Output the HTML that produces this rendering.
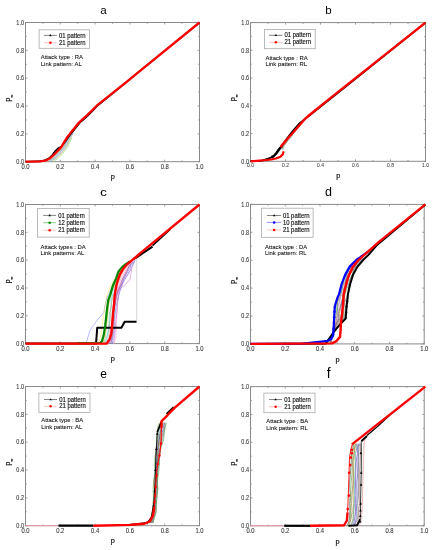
<!DOCTYPE html>
<html><head><meta charset="utf-8"><title>Figure</title>
<style>html,body{margin:0;padding:0;background:#fff;width:434px;height:550px;overflow:hidden}

svg{font-family:'Liberation Sans',Arial,sans-serif}
.tk{fill:#3a3a3a;stroke:#3a3a3a;stroke-width:0.1px}
.tkx{font-size:6.3px}
.tky{font-size:6.4px}
.tkb{font-size:4.9px;stroke-width:0.05px}
.lg{font-size:6.8px;fill:#111;stroke:#111;stroke-width:0.15px}
.an{font-size:5.9px;fill:#1a1a1a;stroke:#1a1a1a;stroke-width:0.1px}
.tm{stroke:#888;stroke-width:0.8;fill:none}
.al{font-size:7.4px;fill:#111;stroke:#111;stroke-width:0.2px}
.fr{fill:none;stroke:#8a8a8a;stroke-width:1}
</style>
</head><body>
<svg width="434" height="550" viewBox="0 0 434 550" style="display:block;font-family:'Liberation Sans',Arial,sans-serif">
<g>
<path d="M25.5 161.7v-2M25.5 22.5v2M25.5 161.7h2M199.5 161.7h-2M42.9 161.7v-1.3M42.9 22.5v1.3M25.5 147.78h1.3M199.5 147.78h-1.3M60.3 161.7v-2M60.3 22.5v2M25.5 133.86h2M199.5 133.86h-2M77.7 161.7v-1.3M77.7 22.5v1.3M25.5 119.94h1.3M199.5 119.94h-1.3M95.1 161.7v-2M95.1 22.5v2M25.5 106.02h2M199.5 106.02h-2M112.5 161.7v-1.3M112.5 22.5v1.3M25.5 92.1h1.3M199.5 92.1h-1.3M129.9 161.7v-2M129.9 22.5v2M25.5 78.18h2M199.5 78.18h-2M147.3 161.7v-1.3M147.3 22.5v1.3M25.5 64.26h1.3M199.5 64.26h-1.3M164.7 161.7v-2M164.7 22.5v2M25.5 50.34h2M199.5 50.34h-2M182.1 161.7v-1.3M182.1 22.5v1.3M25.5 36.42h1.3M199.5 36.42h-1.3M199.5 161.7v-2M199.5 22.5v2M25.5 22.5h2M199.5 22.5h-2" class="tm"/><g class="tk"><text transform="translate(25.5 168.9) scale(0.93 1)" text-anchor="middle" class="tkx">0.0</text><text transform="translate(24 163.9) scale(0.86 1)" text-anchor="end" class="tky">0.0</text><text transform="translate(60.3 168.9) scale(0.93 1)" text-anchor="middle" class="tkx">0.2</text><text transform="translate(24 136.06) scale(0.86 1)" text-anchor="end" class="tky">0.2</text><text transform="translate(95.1 168.9) scale(0.93 1)" text-anchor="middle" class="tkx">0.4</text><text transform="translate(24 108.22) scale(0.86 1)" text-anchor="end" class="tky">0.4</text><text transform="translate(129.9 168.9) scale(0.93 1)" text-anchor="middle" class="tkx">0.6</text><text transform="translate(24 80.38) scale(0.86 1)" text-anchor="end" class="tky">0.6</text><text transform="translate(164.7 168.9) scale(0.93 1)" text-anchor="middle" class="tkx">0.8</text><text transform="translate(24 52.54) scale(0.86 1)" text-anchor="end" class="tky">0.8</text><text transform="translate(199.5 168.9) scale(0.93 1)" text-anchor="middle" class="tkx">1.0</text><text transform="translate(24 24.7) scale(0.86 1)" text-anchor="end" class="tky">1.0</text></g>
<rect x="25.5" y="22.5" width="174" height="139.2" class="fr"/>
<path d="M49.79 161.7L48.82 160.31L52.22 158.36L55.73 155.16L59.22 151.54L63.03 147.36L65.91 141.79L68.66 137.2L71.94 132.61L75.23 128.57" stroke="#999" stroke-width="0.5" fill="none" stroke-linejoin="round"/><path d="M50.35 161.7L49.64 160.31L53 158.36L56.46 155.16L59.9 151.54L63.65 147.36L66.45 141.79L69.13 137.2L72.34 132.61L75.57 128.57" stroke="#6b6" stroke-width="0.5" fill="none" stroke-linejoin="round"/><path d="M50.9 161.7L50.45 160.31L53.79 158.36L57.2 155.16L60.58 151.54L64.27 147.36L66.99 141.79L69.6 137.2L72.73 132.61" stroke="#5cc" stroke-width="0.5" fill="none" stroke-linejoin="round"/><path d="M51.46 161.7L51.27 160.31L54.57 158.36L57.94 155.16L61.26 151.54L64.89 147.36L67.52 141.79L70.07 137.2L73.13 132.61" stroke="#a8d" stroke-width="0.5" fill="none" stroke-linejoin="round"/><path d="M52.3 161.7L52.49 160.31L55.75 158.36L59.04 155.16L62.29 151.54L65.82 147.36L68.33 141.79L70.77 137.2L73.73 132.61" stroke="#888" stroke-width="0.5" fill="none" stroke-linejoin="round"/><path d="M53.13 161.7L53.71 160.31L56.93 158.36L60.15 155.16L63.31 151.54L66.75 147.36L69.13 141.79L71.47 137.2" stroke="#cc6" stroke-width="0.5" fill="none" stroke-linejoin="round"/><path d="M53.97 161.7L54.93 160.31L58.1 158.36L61.25 155.16L64.34 151.54L67.68 147.36L69.94 141.79L72.17 137.2" stroke="#7c7" stroke-width="0.5" fill="none" stroke-linejoin="round"/><path d="M25.5 161.7L42.9 161.14L48.99 158.22L52.47 154.74L55.43 150.84L58.21 148.2L61.17 146.67L65.17 141.79L68.3 137.2L71.78 132.61L75.26 128.57L79.79 122.72L82.92 120.22L88.14 115.35L92.84 110.75L97.01 106.02L109.02 96.28L125.03 83.33L140.34 70.52L199.5 22.5" stroke="#000" stroke-width="1.6" fill="none" stroke-linejoin="round"/><path d="M25.5 161.7L39.94 161.28L46.38 160.31L49.86 158.36L53.51 155.16L57.17 151.54L61.17 147.36L64.3 141.79L67.26 137.2L70.74 132.61L74.22 128.57L78.92 122.58L81.88 119.94L87.44 114.93L92.14 110.34L97.01 105.46L109.02 95.86L125.03 83.05L140.34 70.52L199.5 22.5" stroke="#f00" stroke-width="2.3" fill="none" stroke-linejoin="round"/>
<rect x="39.1" y="29.8" width="50.5" height="18.5" fill="#fff" stroke="#aaa" stroke-width="0.8"/><path d="M43.8 35.4H56.8" stroke="#777" stroke-width="0.9"/><path d="M50.4 34.1l1.3 2.1h-2.6z" fill="#000"/><text transform="translate(59 37.5) scale(0.87 1)" class="lg">01 pattern</text><path d="M43.8 42.7H56.8" stroke="#fbb" stroke-width="0.9"/><circle cx="50.4" cy="42.7" r="1.25" fill="#f00"/><text transform="translate(59 44.8) scale(0.87 1)" class="lg">21 pattern</text><text x="40.8" y="59.3" class="an">Attack type : RA</text><text x="40.8" y="66" class="an">Link pattern: AL</text>
</g>
<g>
<path d="M250.5 161.3v-2M250.5 22.6v2M250.5 161.3h2M425.5 161.3h-2M268 161.3v-1.3M268 22.6v1.3M250.5 147.43h1.3M425.5 147.43h-1.3M285.5 161.3v-2M285.5 22.6v2M250.5 133.56h2M425.5 133.56h-2M303 161.3v-1.3M303 22.6v1.3M250.5 119.69h1.3M425.5 119.69h-1.3M320.5 161.3v-2M320.5 22.6v2M250.5 105.82h2M425.5 105.82h-2M338 161.3v-1.3M338 22.6v1.3M250.5 91.95h1.3M425.5 91.95h-1.3M355.5 161.3v-2M355.5 22.6v2M250.5 78.08h2M425.5 78.08h-2M373 161.3v-1.3M373 22.6v1.3M250.5 64.21h1.3M425.5 64.21h-1.3M390.5 161.3v-2M390.5 22.6v2M250.5 50.34h2M425.5 50.34h-2M408 161.3v-1.3M408 22.6v1.3M250.5 36.47h1.3M425.5 36.47h-1.3M425.5 161.3v-2M425.5 22.6v2M250.5 22.6h2M425.5 22.6h-2" class="tm"/><g class="tk"><text x="250.5" y="166.9" text-anchor="middle" class="tkb">0.0</text><text transform="translate(249 163.5) scale(0.86 1)" text-anchor="end" class="tky">0.0</text><text x="285.5" y="166.9" text-anchor="middle" class="tkb">0.2</text><text transform="translate(249 135.76) scale(0.86 1)" text-anchor="end" class="tky">0.2</text><text x="320.5" y="166.9" text-anchor="middle" class="tkb">0.4</text><text transform="translate(249 108.02) scale(0.86 1)" text-anchor="end" class="tky">0.4</text><text x="355.5" y="166.9" text-anchor="middle" class="tkb">0.6</text><text transform="translate(249 80.28) scale(0.86 1)" text-anchor="end" class="tky">0.6</text><text x="390.5" y="166.9" text-anchor="middle" class="tkb">0.8</text><text transform="translate(249 52.54) scale(0.86 1)" text-anchor="end" class="tky">0.8</text><text x="425.5" y="166.9" text-anchor="middle" class="tkb">1.0</text><text transform="translate(249 24.8) scale(0.86 1)" text-anchor="end" class="tky">1.0</text></g>
<rect x="250.5" y="22.6" width="175" height="138.7" class="fr"/>
<path d="M282.35 147.43L283.94 144.66L287.51 140.5L291.13 136.33L294.79 132.17" stroke="#5dd" stroke-width="0.5" fill="none" stroke-linejoin="round"/><path d="M282.35 148.82L283.17 146.04L286.67 141.88L290.26 137.72" stroke="#c5c" stroke-width="0.5" fill="none" stroke-linejoin="round"/><path d="M282.52 149.51L283.05 147.43L285.83 143.27L289.4 139.11L293.06 134.95" stroke="#5c5" stroke-width="0.5" fill="none" stroke-linejoin="round"/><path d="M282.7 150.2L283.4 147.43L284.99 144.66L287.37 141.88" stroke="#888" stroke-width="0.5" fill="none" stroke-linejoin="round"/><path d="M250.5 161.3L262.05 160.61L267.48 158.8L273.07 156.86L275.88 153.67L278.68 149.51L282.35 144.93L286.9 138.55L292.5 131.2L298.98 123.71L304.75 119.14L310 115.11L329.25 99.86L355.5 78.77L425.5 22.6" stroke="#000" stroke-width="1.7" fill="none" stroke-linejoin="round"/><path d="M271.5 157.14L274.12 155.75L276.75 152.7L279.02 149.51L282 146.04" stroke="#000" stroke-width="2.4" fill="none" stroke-linejoin="round"/><path d="M250.5 161.3L262.05 160.47L271.15 159.5L275.88 158.53L280.43 156.72L282.7 154.37L283.75 151.45" stroke="#f00" stroke-width="2.2" fill="none" stroke-linejoin="round"/><path d="M280.95 147.43L281.48 145.9L287.77 138.55L294.25 131.2L300.73 123.71L305.62 118.3L309.48 114.97L330.3 98.19L425.5 22.6" stroke="#f00" stroke-width="2.4" fill="none" stroke-linejoin="round"/>
<rect x="264.4" y="29.4" width="50.8" height="19.3" fill="#fff" stroke="#aaa" stroke-width="0.8"/><path d="M269 35.3H282.5" stroke="#777" stroke-width="0.9"/><path d="M275.85 34l1.3 2.1h-2.6z" fill="#000"/><text transform="translate(284.5 37.4) scale(0.87 1)" class="lg">01 pattern</text><path d="M269 42.3H282.5" stroke="#fbb" stroke-width="0.9"/><circle cx="275.85" cy="42.3" r="1.25" fill="#f00"/><text transform="translate(284.5 44.4) scale(0.87 1)" class="lg">21 pattern</text><text x="265.5" y="59.5" class="an">Attack type : RA</text><text x="265.5" y="65.8" class="an">Link pattern: RL</text>
</g>
<g>
<path d="M25.5 343.6v-2M25.5 204.5v2M25.5 343.6h2M199.5 343.6h-2M42.9 343.6v-1.3M42.9 204.5v1.3M25.5 329.69h1.3M199.5 329.69h-1.3M60.3 343.6v-2M60.3 204.5v2M25.5 315.78h2M199.5 315.78h-2M77.7 343.6v-1.3M77.7 204.5v1.3M25.5 301.87h1.3M199.5 301.87h-1.3M95.1 343.6v-2M95.1 204.5v2M25.5 287.96h2M199.5 287.96h-2M112.5 343.6v-1.3M112.5 204.5v1.3M25.5 274.05h1.3M199.5 274.05h-1.3M129.9 343.6v-2M129.9 204.5v2M25.5 260.14h2M199.5 260.14h-2M147.3 343.6v-1.3M147.3 204.5v1.3M25.5 246.23h1.3M199.5 246.23h-1.3M164.7 343.6v-2M164.7 204.5v2M25.5 232.32h2M199.5 232.32h-2M182.1 343.6v-1.3M182.1 204.5v1.3M25.5 218.41h1.3M199.5 218.41h-1.3M199.5 343.6v-2M199.5 204.5v2M25.5 204.5h2M199.5 204.5h-2" class="tm"/><g class="tk"><text transform="translate(25.5 350.8) scale(0.93 1)" text-anchor="middle" class="tkx">0.0</text><text transform="translate(24 345.8) scale(0.86 1)" text-anchor="end" class="tky">0.0</text><text transform="translate(60.3 350.8) scale(0.93 1)" text-anchor="middle" class="tkx">0.2</text><text transform="translate(24 317.98) scale(0.86 1)" text-anchor="end" class="tky">0.2</text><text transform="translate(95.1 350.8) scale(0.93 1)" text-anchor="middle" class="tkx">0.4</text><text transform="translate(24 290.16) scale(0.86 1)" text-anchor="end" class="tky">0.4</text><text transform="translate(129.9 350.8) scale(0.93 1)" text-anchor="middle" class="tkx">0.6</text><text transform="translate(24 262.34) scale(0.86 1)" text-anchor="end" class="tky">0.6</text><text transform="translate(164.7 350.8) scale(0.93 1)" text-anchor="middle" class="tkx">0.8</text><text transform="translate(24 234.52) scale(0.86 1)" text-anchor="end" class="tky">0.8</text><text transform="translate(199.5 350.8) scale(0.93 1)" text-anchor="middle" class="tkx">1.0</text><text transform="translate(24 206.7) scale(0.86 1)" text-anchor="end" class="tky">1.0</text></g>
<rect x="25.5" y="204.5" width="174" height="139.1" class="fr"/>
<path d="M82.92 343.6L86.4 342.21L88.14 336.65L90.05 330.11L93.36 325.52L97.36 319.95L103.8 312.44L105.19 304.65L106.93 297.7L109.02 293.52L112.5 285.18L117.72 274.05L122.94 267.1L129.9 261.53" stroke="#77f" stroke-width="0.5" fill="none" stroke-linejoin="round"/><path d="M98.58 343.6L101.02 333.72L104.67 308.83L106.93 295.05L110.76 285.18L115.98 276.83" stroke="#ee4" stroke-width="0.5" fill="none" stroke-linejoin="round"/><path d="M105.54 343.6L107.98 333.72L110.76 313.42L112.15 295.05L114.24 285.18L119.46 276.83" stroke="#5dd" stroke-width="0.5" fill="none" stroke-linejoin="round"/><path d="M112.5 343.6L114.41 338.31L115.81 322.6L117.55 304.23L118.59 295.05L121.2 285.18L124.68 276.83L127.29 271.27L129.9 262.92" stroke="#a5e" stroke-width="0.5" fill="none" stroke-linejoin="round"/><path d="M114.24 343.6L115.98 336.65L116.68 322.6L117.37 301.87L118.07 294.92L120.33 285.18L122.94 278.22" stroke="#f9b" stroke-width="0.5" fill="none" stroke-linejoin="round"/><path d="M103.8 343.6L105.54 335.25L107.28 315.78L109.02 301.87L111.63 290.74L115.98 282.4" stroke="#c96" stroke-width="0.5" fill="none" stroke-linejoin="round"/><path d="M110.76 343.6L112.5 332.47L114.24 308.83L115.98 297.7L119.46 287.96L124.68 279.61L129.9 271.27L135.12 260.14" stroke="#33c" stroke-width="0.5" fill="none" stroke-linejoin="round"/><path d="M117.72 290.74L124.68 285.18L129.9 279.61L131.64 269.88L129.9 262.92" stroke="#c6c" stroke-width="0.5" fill="none" stroke-linejoin="round"/><path d="M136.69 321.76L136.69 257.36" stroke="#aaa" stroke-width="0.5" fill="none" stroke-linejoin="round"/><path d="M103.58 343.6L103.74 339.43L105.87 333.86L105.83 326.91L107.46 319.95L107.9 313L108.19 306.04L110.09 299.09L111.64 292.13L114.46 285.18L116.9 278.22L119.71 271.27L124.98 265.7L131.06 261.53" stroke="#dd4" stroke-width="0.55" fill="none" stroke-linejoin="round"/><path d="M105.06 343.6L105.7 339.43L107.54 333.86L108.97 326.91L109.09 319.95L109.5 313L111.31 306.04L110.81 299.09L114.48 292.13L115.68 285.18L118.47 278.22L121.43 271.27L126.09 265.7L131.62 261.53" stroke="#5cc" stroke-width="0.55" fill="none" stroke-linejoin="round"/><path d="M106.62 343.6L107.79 339.43L108.93 333.86L109.26 326.91L110.29 319.95L110.16 313L110.93 306.04L112.31 299.09L115.3 292.13L117.11 285.18L119.93 278.22L123.58 271.27L127.38 265.7L131.2 261.53" stroke="#c96" stroke-width="0.55" fill="none" stroke-linejoin="round"/><path d="M109.27 343.6L109.59 339.43L109.72 333.86L111.01 326.91L111.6 319.95L112.92 313L113.42 306.04L113.77 299.09L117.05 292.13L117.85 285.18L121.36 278.22L125.33 271.27L127.99 265.7L132.03 261.53" stroke="#e8b" stroke-width="0.55" fill="none" stroke-linejoin="round"/><path d="M109.18 343.6L110.76 339.43L111.76 333.86L112.08 326.91L113.26 319.95L112.98 313L114.37 306.04L115.32 299.09L117.29 292.13L119.42 285.18L123.06 278.22L126.77 271.27L129.42 265.7L132.73 261.53" stroke="#a5d" stroke-width="0.55" fill="none" stroke-linejoin="round"/><path d="M110.43 343.6L112.05 339.43L112.7 333.86L113.89 326.91L114.2 319.95L113.96 313L114.85 306.04L116.47 299.09L117.27 292.13L120.41 285.18L122.85 278.22L126.45 271.27L129.57 265.7L133.3 261.53" stroke="#c66" stroke-width="0.55" fill="none" stroke-linejoin="round"/><path d="M111.77 343.6L112.48 339.43L113.39 333.86L114.75 326.91L113.96 319.95L115.28 313L116.15 306.04L117.86 299.09L119.6 292.13L122.1 285.18L124.01 278.22L128.08 271.27L130.96 265.7L133.9 261.53" stroke="#57d" stroke-width="0.55" fill="none" stroke-linejoin="round"/><path d="M114.43 343.6L113.54 339.43L114.15 333.86L114.71 326.91L115.26 319.95L116.37 313L117.23 306.04L117.79 299.09L119.12 292.13L122.31 285.18L125.13 278.22L129.46 271.27L132.86 265.7L133.95 261.53" stroke="#d9d" stroke-width="0.55" fill="none" stroke-linejoin="round"/><path d="M25.5 343.6L95.97 343.6L96.49 338.04L97.19 327.74L121.37 327.74L124.68 321.76L136.51 321.76" stroke="#000" stroke-width="2" fill="none" stroke-linejoin="round"/><path d="M133.38 259.17L136.51 257.22L152.52 246.65" stroke="#000" stroke-width="2.2" fill="none" stroke-linejoin="round"/><path d="M152.52 245.67L170.44 229.26" stroke="#000" stroke-width="1.5" fill="none" stroke-linejoin="round"/><path d="M77.7 343.04L100.32 342.77L102.06 341.1L103.8 334.56L105.19 325.38L106.06 318.01L106.93 309.66L108.32 299.64L110.24 294.92L112.85 285.73L116.15 278.36L118.42 271.69L122.07 267.1L125.38 264.45L129.9 261.53" stroke="#080" stroke-width="2.2" fill="none" stroke-linejoin="round"/><path d="M25.5 343.6L106.58 343.6L109.72 339.15L111.28 333.72L112.15 325.38L113.02 313.42L114.07 304.23L114.76 294.92L116.15 286.57L117.55 281L119.81 274.61L122.94 269.04L126.77 264.45L131.29 260.84L136.86 256.25L139.99 253.32L199.5 204.5" stroke="#f00" stroke-width="2.4" fill="none" stroke-linejoin="round"/>
<rect x="37.5" y="208.5" width="51.7" height="28.6" fill="#fff" stroke="#aaa" stroke-width="0.8"/><path d="M43.1 215.4H56.1" stroke="#777" stroke-width="0.9"/><path d="M49.7 214.1l1.3 2.1h-2.6z" fill="#000"/><text transform="translate(58.3 217.5) scale(0.87 1)" class="lg">01 pattern</text><path d="M43.1 222.7H56.1" stroke="#7c7" stroke-width="0.9"/><circle cx="49.7" cy="222.7" r="1.25" fill="#080"/><text transform="translate(58.3 224.8) scale(0.87 1)" class="lg">12 pattern</text><path d="M43.1 230.2H56.1" stroke="#fbb" stroke-width="0.9"/><circle cx="49.7" cy="230.2" r="1.25" fill="#f00"/><text transform="translate(58.3 232.3) scale(0.87 1)" class="lg">21 pattern</text><text x="40.5" y="248.8" class="an">Attack types : DA</text><text x="40.5" y="255" class="an">Link patterns: AL</text>
</g>
<g>
<path d="M250.5 343.9v-2M250.5 204.4v2M250.5 343.9h2M424.2 343.9h-2M267.87 343.9v-1.3M267.87 204.4v1.3M250.5 329.95h1.3M424.2 329.95h-1.3M285.24 343.9v-2M285.24 204.4v2M250.5 316h2M424.2 316h-2M302.61 343.9v-1.3M302.61 204.4v1.3M250.5 302.05h1.3M424.2 302.05h-1.3M319.98 343.9v-2M319.98 204.4v2M250.5 288.1h2M424.2 288.1h-2M337.35 343.9v-1.3M337.35 204.4v1.3M250.5 274.15h1.3M424.2 274.15h-1.3M354.72 343.9v-2M354.72 204.4v2M250.5 260.2h2M424.2 260.2h-2M372.09 343.9v-1.3M372.09 204.4v1.3M250.5 246.25h1.3M424.2 246.25h-1.3M389.46 343.9v-2M389.46 204.4v2M250.5 232.3h2M424.2 232.3h-2M406.83 343.9v-1.3M406.83 204.4v1.3M250.5 218.35h1.3M424.2 218.35h-1.3M424.2 343.9v-2M424.2 204.4v2M250.5 204.4h2M424.2 204.4h-2" class="tm"/><g class="tk"><text transform="translate(250.5 351.1) scale(0.93 1)" text-anchor="middle" class="tkx">0.0</text><text transform="translate(249 346.1) scale(0.86 1)" text-anchor="end" class="tky">0.0</text><text transform="translate(285.24 351.1) scale(0.93 1)" text-anchor="middle" class="tkx">0.2</text><text transform="translate(249 318.2) scale(0.86 1)" text-anchor="end" class="tky">0.2</text><text transform="translate(319.98 351.1) scale(0.93 1)" text-anchor="middle" class="tkx">0.4</text><text transform="translate(249 290.3) scale(0.86 1)" text-anchor="end" class="tky">0.4</text><text transform="translate(354.72 351.1) scale(0.93 1)" text-anchor="middle" class="tkx">0.6</text><text transform="translate(249 262.4) scale(0.86 1)" text-anchor="end" class="tky">0.6</text><text transform="translate(389.46 351.1) scale(0.93 1)" text-anchor="middle" class="tkx">0.8</text><text transform="translate(249 234.5) scale(0.86 1)" text-anchor="end" class="tky">0.8</text><text transform="translate(424.2 351.1) scale(0.93 1)" text-anchor="middle" class="tkx">1.0</text><text transform="translate(249 206.6) scale(0.86 1)" text-anchor="end" class="tky">1.0</text></g>
<rect x="250.5" y="204.4" width="173.7" height="139.5" class="fr"/>
<path d="M328.45 342.5L330.09 339.71L332.7 335.53L333.03 329.95L333.71 324.37L335.09 318.79L336.31 313.21L336.47 307.63L337.65 302.05L338.49 296.47L340.83 290.89L341.77 285.31L343.52 279.73L345.6 274.15L348.88 268.57L354.77 262.99L359.14 258.81" stroke="#6a4" stroke-width="0.65" fill="none" stroke-linejoin="round"/><path d="M329.74 342.5L331.33 339.71L332.21 335.53L333.46 329.95L335.19 324.37L336.57 318.79L337.13 313.21L337.55 307.63L337.34 302.05L339.94 296.47L341.77 290.89L342.86 285.31L344.19 279.73L346.88 274.15L349.29 268.57L355.36 262.99L359.72 258.81" stroke="#964" stroke-width="0.65" fill="none" stroke-linejoin="round"/><path d="M329.57 342.5L330.48 339.71L333.33 335.53L334.07 329.95L336.13 324.37L337.68 318.79L337.46 313.21L337.67 307.63L339.12 302.05L340.41 296.47L341.58 290.89L343.2 285.31L345.95 279.73L346.75 274.15L349.84 268.57L355.41 262.99L359.21 258.81" stroke="#4aa" stroke-width="0.65" fill="none" stroke-linejoin="round"/><path d="M329.84 342.5L330.8 339.71L332.2 335.53L334.96 329.95L335.42 324.37L337.83 318.79L337.86 313.21L338.99 307.63L339.44 302.05L341.06 296.47L343.31 290.89L343.92 285.31L346.17 279.73L348.89 274.15L350.57 268.57L355.01 262.99L359.63 258.81" stroke="#e8b" stroke-width="0.65" fill="none" stroke-linejoin="round"/><path d="M330.53 342.5L331.07 339.71L331.88 335.53L333.94 329.95L335.89 324.37L338.82 318.79L338.51 313.21L340.04 307.63L341.41 302.05L342.88 296.47L343.99 290.89L345.72 285.31L345.88 279.73L348.44 274.15L352.71 268.57L356.84 262.99L360.46 258.81" stroke="#555" stroke-width="0.65" fill="none" stroke-linejoin="round"/><path d="M331.12 342.5L331.1 339.71L332.76 335.53L334.03 329.95L336.41 324.37L339.7 318.79L339.61 313.21L340.42 307.63L342.41 302.05L342.57 296.47L343.43 290.89L344.81 285.31L346.81 279.73L349.94 274.15L352.28 268.57L356.58 262.99L360.43 258.81" stroke="#993" stroke-width="0.65" fill="none" stroke-linejoin="round"/><path d="M331.48 342.5L330.78 339.71L331.56 335.53L333.77 329.95L336.67 324.37L340.12 318.79L341.49 313.21L340.96 307.63L341.68 302.05L343.63 296.47L344.55 290.89L347.17 285.31L347.38 279.73L350.12 274.15L353.63 268.57L357.37 262.99L362.5 258.81" stroke="#84b" stroke-width="0.65" fill="none" stroke-linejoin="round"/><path d="M330.88 342.5L330.48 339.71L331.77 335.53L333.88 329.95L337.8 324.37L341.17 318.79L342.79 313.21L343.08 307.63L343.37 302.05L343.6 296.47L345.26 290.89L346.54 285.31L348.19 279.73L350.23 274.15L354.43 268.57L357.49 262.99L361.37 258.81" stroke="#a77" stroke-width="0.65" fill="none" stroke-linejoin="round"/><path d="M332 342.5L331.07 339.71L332.64 335.53L334.69 329.95L339.2 324.37L342.9 318.79L343.67 313.21L343.99 307.63L344.35 302.05L344.59 296.47L345.98 290.89L348.42 285.31L350.15 279.73L352.15 274.15L354.21 268.57L359.05 262.99L363.26 258.81" stroke="#5a5" stroke-width="0.65" fill="none" stroke-linejoin="round"/><path d="M331.85 342.5L331.54 339.71L331.66 335.53L335.32 329.95L339.44 324.37L343.36 318.79L345.07 313.21L345.53 307.63L344.72 302.05L347.1 296.47L348.17 290.89L348.92 285.31L349.47 279.73L352.89 274.15L354.63 268.57L360.32 262.99L363.67 258.81" stroke="#777" stroke-width="0.65" fill="none" stroke-linejoin="round"/><path d="M250.5 343.9L325.71 343.62L330.08 337.34L334.98 330.37L340.05 324.37L345.47 318.79L345.99 314.33L346.52 307.21L347.57 298.28L347.92 294.38L350.19 284.05L352.99 274.85L357.54 266.62L363.31 259.78L368.73 254.62L376.43 245.55L425.4 204.4" stroke="#000" stroke-width="2" fill="none" stroke-linejoin="round"/><path d="M250.5 343.9L302.97 343.48L319.41 341.81L327.46 340.83L331.3 339.02L333.05 335.53L333.93 323.25L334.28 315.3L334.8 307.21L335.68 303.31L337.6 297.31L339 294.38L341.62 284.05L345.12 274.85L349.67 266.62L356.49 259.78L359.99 257.41L368.03 251.55" stroke="#00f" stroke-width="2.2" fill="none" stroke-linejoin="round"/><circle cx="333.05" cy="334.13" r="1.25" fill="#00f"/><circle cx="333.75" cy="328.56" r="1.25" fill="#00f"/><circle cx="333.93" cy="322.97" r="1.25" fill="#00f"/><circle cx="334.1" cy="317.39" r="1.25" fill="#00f"/><circle cx="334.45" cy="311.81" r="1.25" fill="#00f"/><circle cx="334.8" cy="306.93" r="1.25" fill="#00f"/><path d="M345.82 315.83l1.43 2.6h-2.86zM346.17 310.25l1.43 2.6h-2.86zM346.69 304.68l1.43 2.6h-2.86zM347.22 299.09l1.43 2.6h-2.86z" fill="#000"/><path d="M250.5 343.9L332 343.34L336.03 341.39L340.05 336.92L340.57 330.37L340.92 323.25L341.97 315.3L343.02 305.26L343.72 294.38L346.17 284.05L348.97 274.85L352.99 266.62L358.76 259.78L368.03 251.55L378.35 242.34L425.4 204.4" stroke="#f00" stroke-width="2.4" fill="none" stroke-linejoin="round"/>
<rect x="261.5" y="208.2" width="51.6" height="29.1" fill="#fff" stroke="#aaa" stroke-width="0.8"/><path d="M266.9 215.5H281.2" stroke="#777" stroke-width="0.9"/><path d="M274.15 214.2l1.3 2.1h-2.6z" fill="#000"/><text transform="translate(282.9 217.6) scale(0.87 1)" class="lg">01 pattern</text><path d="M266.9 222.4H281.2" stroke="#88f" stroke-width="0.9"/><circle cx="274.15" cy="222.4" r="1.25" fill="#00f"/><text transform="translate(282.9 224.5) scale(0.87 1)" class="lg">10 pattern</text><path d="M266.9 230H281.2" stroke="#fbb" stroke-width="0.9"/><circle cx="274.15" cy="230" r="1.25" fill="#f00"/><text transform="translate(282.9 232.1) scale(0.87 1)" class="lg">21 pattern</text><text x="265" y="248.5" class="an">Attack type : DA</text><text x="265" y="254.6" class="an">Link pattern: RL</text>
</g>
<g>
<path d="M25.5 525.7v-2M25.5 386.5v2M25.5 525.7h2M199.5 525.7h-2M42.9 525.7v-1.3M42.9 386.5v1.3M25.5 511.78h1.3M199.5 511.78h-1.3M60.3 525.7v-2M60.3 386.5v2M25.5 497.86h2M199.5 497.86h-2M77.7 525.7v-1.3M77.7 386.5v1.3M25.5 483.94h1.3M199.5 483.94h-1.3M95.1 525.7v-2M95.1 386.5v2M25.5 470.02h2M199.5 470.02h-2M112.5 525.7v-1.3M112.5 386.5v1.3M25.5 456.1h1.3M199.5 456.1h-1.3M129.9 525.7v-2M129.9 386.5v2M25.5 442.18h2M199.5 442.18h-2M147.3 525.7v-1.3M147.3 386.5v1.3M25.5 428.26h1.3M199.5 428.26h-1.3M164.7 525.7v-2M164.7 386.5v2M25.5 414.34h2M199.5 414.34h-2M182.1 525.7v-1.3M182.1 386.5v1.3M25.5 400.42h1.3M199.5 400.42h-1.3M199.5 525.7v-2M199.5 386.5v2M25.5 386.5h2M199.5 386.5h-2" class="tm"/><g class="tk"><text transform="translate(25.5 532.9) scale(0.93 1)" text-anchor="middle" class="tkx">0.0</text><text transform="translate(24 527.9) scale(0.86 1)" text-anchor="end" class="tky">0.0</text><text transform="translate(60.3 532.9) scale(0.93 1)" text-anchor="middle" class="tkx">0.2</text><text transform="translate(24 500.06) scale(0.86 1)" text-anchor="end" class="tky">0.2</text><text transform="translate(95.1 532.9) scale(0.93 1)" text-anchor="middle" class="tkx">0.4</text><text transform="translate(24 472.22) scale(0.86 1)" text-anchor="end" class="tky">0.4</text><text transform="translate(129.9 532.9) scale(0.93 1)" text-anchor="middle" class="tkx">0.6</text><text transform="translate(24 444.38) scale(0.86 1)" text-anchor="end" class="tky">0.6</text><text transform="translate(164.7 532.9) scale(0.93 1)" text-anchor="middle" class="tkx">0.8</text><text transform="translate(24 416.54) scale(0.86 1)" text-anchor="end" class="tky">0.8</text><text transform="translate(199.5 532.9) scale(0.93 1)" text-anchor="middle" class="tkx">1.0</text><text transform="translate(24 388.7) scale(0.86 1)" text-anchor="end" class="tky">1.0</text></g>
<rect x="25.5" y="386.5" width="174" height="139.2" class="fr"/>
<path d="M148.89 522.92L150.88 517.35L152.2 511.78L152.96 504.82L153.43 497.86L153.17 489.51L153.57 481.16L155.09 472.8L154.66 464.45L155 456.1L156.84 447.75L156.8 439.4L157.72 432.44L157.87 426.87L159.31 422.69" stroke="#6a4" stroke-width="0.65" fill="none" stroke-linejoin="round"/><path d="M149.21 522.92L151.43 517.35L153.31 511.78L153.27 504.82L154 497.86L154.43 489.51L154.06 481.16L155.42 472.8L155.57 464.45L155.56 456.1L156.08 447.75L158.06 439.4L158.04 432.44L159.09 426.87L160.45 422.69" stroke="#964" stroke-width="0.65" fill="none" stroke-linejoin="round"/><path d="M150.43 522.92L152.26 517.35L153.07 511.78L154.07 504.82L154.01 497.86L155.21 489.51L155.62 481.16L154.94 472.8L155.39 464.45L155.91 456.1L157.97 447.75L158.17 439.4L159.09 432.44L159.39 426.87L160.74 422.69" stroke="#4aa" stroke-width="0.65" fill="none" stroke-linejoin="round"/><path d="M150.4 522.92L151.89 517.35L153.75 511.78L154.19 504.82L155.07 497.86L155.28 489.51L156.11 481.16L156.43 472.8L157.04 464.45L157.01 456.1L157.44 447.75L159.47 439.4L160.39 432.44L161.11 426.87L161.64 422.69" stroke="#84b" stroke-width="0.65" fill="none" stroke-linejoin="round"/><path d="M151.3 522.92L152.12 517.35L154.51 511.78L154.59 504.82L154.62 497.86L154.84 489.51L156.43 481.16L157.05 472.8L156.24 464.45L157.66 456.1L158.37 447.75L159.2 439.4L160.29 432.44L161.8 426.87L162.87 422.69" stroke="#555" stroke-width="0.65" fill="none" stroke-linejoin="round"/><path d="M150.8 522.92L153.11 517.35L153.84 511.78L155.21 504.82L155.1 497.86L156.39 489.51L157.03 481.16L156.82 472.8L157.96 464.45L157.45 456.1L158.49 447.75L160.53 439.4L160.76 432.44L161.88 426.87L163.03 422.69" stroke="#993" stroke-width="0.65" fill="none" stroke-linejoin="round"/><path d="M152.02 522.92L152.9 517.35L154.25 511.78L155.83 504.82L155.5 497.86L156.92 489.51L157.33 481.16L157.08 472.8L157.66 464.45L158.21 456.1L159.86 447.75L161.23 439.4L162.32 432.44L163.35 426.87L164.58 422.69" stroke="#45b" stroke-width="0.65" fill="none" stroke-linejoin="round"/><path d="M152.31 522.92L153.71 517.35L155.61 511.78L155.37 504.82L155.9 497.86L157.36 489.51L157.23 481.16L157.76 472.8L157.49 464.45L158.54 456.1L160.36 447.75L161.14 439.4L163.23 432.44L164.25 426.87L164.16 422.69" stroke="#a77" stroke-width="0.65" fill="none" stroke-linejoin="round"/><path d="M152.91 522.92L154.18 517.35L155.97 511.78L155.95 504.82L156.88 497.86L157.44 489.51L156.96 481.16L157.51 472.8L158.87 464.45L159.77 456.1L160.48 447.75L162.46 439.4L164.03 432.44L164.69 426.87L165.39 422.69" stroke="#777" stroke-width="0.65" fill="none" stroke-linejoin="round"/><path d="M152.91 522.92L154.47 517.35L156.27 511.78L156.3 504.82L156.84 497.86L157.91 489.51L157.39 481.16L158.66 472.8L159.41 464.45L159.33 456.1L161.03 447.75L163.65 439.4L164.37 432.44L165.39 426.87L166.29 422.69" stroke="#5a5" stroke-width="0.65" fill="none" stroke-linejoin="round"/><path d="M25.5 525.7L57.69 525.7" stroke="#f9a" stroke-width="0.9" fill="none" stroke-linejoin="round"/><path d="M58.56 525.7L93.36 525.7" stroke="#000" stroke-width="2.2" fill="none" stroke-linejoin="round"/><path d="M129.9 524.86L147.3 522.92L151.65 517.35L153.74 504.82" stroke="#000" stroke-width="1.6" fill="none" stroke-linejoin="round"/><path d="M153.74 504.82L154.96 483.94L156 456.1L157.22 432.02" stroke="#000" stroke-width="0.9" fill="none" stroke-linejoin="round"/><path d="M154.61 489.46l1.32 2.4h-2.64zM155.48 468.58l1.32 2.4h-2.64zM156.35 447.7l1.32 2.4h-2.64zM157.22 432.39l1.32 2.4h-2.64z" fill="#000"/><path d="M157.22 432.02L161.74 421.44" stroke="#000" stroke-width="1.8" fill="none" stroke-linejoin="round"/><path d="M166.61 414.06L173.75 407.1" stroke="#000" stroke-width="2" fill="none" stroke-linejoin="round"/><path d="M93.36 525.7L129.9 524.86L134.95 524.45L144.34 523.75L149.74 521.38L152.87 515.96L154.26 506.77" stroke="#f00" stroke-width="2.4" fill="none" stroke-linejoin="round"/><path d="M154.26 506.77L155.13 496.05L155.83 483.66L156.52 472.8L157.74 464.17L159.48 455.54L161.05 443.43L161.39 431.04L161.57 421.02" stroke="#f00" stroke-width="1" fill="none" stroke-linejoin="round"/><circle cx="154.43" cy="502.04" r="1.2" fill="#f00"/><circle cx="155.13" cy="496.05" r="1.2" fill="#f00"/><circle cx="155.65" cy="486.72" r="1.2" fill="#f00"/><circle cx="156.52" cy="475.59" r="1.2" fill="#f00"/><circle cx="157.74" cy="464.17" r="1.2" fill="#f00"/><circle cx="159.48" cy="455.54" r="1.2" fill="#f00"/><circle cx="161.05" cy="443.43" r="1.2" fill="#f00"/><path d="M161.39 428.26L161.57 421.02L167.66 415.04L174.79 407.66L199.5 386.5" stroke="#f00" stroke-width="2.4" fill="none" stroke-linejoin="round"/>
<rect x="38.9" y="393.1" width="51.1" height="19.3" fill="#fff" stroke="#aaa" stroke-width="0.8"/><path d="M44 399.5H57" stroke="#777" stroke-width="0.9"/><path d="M50.6 398.2l1.3 2.1h-2.6z" fill="#000"/><text transform="translate(59.2 401.6) scale(0.87 1)" class="lg">01 pattern</text><path d="M44 406.3H57" stroke="#fbb" stroke-width="0.9"/><circle cx="50.6" cy="406.3" r="1.25" fill="#f00"/><text transform="translate(59.2 408.4) scale(0.87 1)" class="lg">21 pattern</text><text x="41.3" y="422.4" class="an">Attack type : BA</text><text x="41.3" y="429" class="an">Link pattern: AL</text>
</g>
<g>
<path d="M250.5 525.8v-2M250.5 386.6v2M250.5 525.8h2M424.2 525.8h-2M267.87 525.8v-1.3M267.87 386.6v1.3M250.5 511.88h1.3M424.2 511.88h-1.3M285.24 525.8v-2M285.24 386.6v2M250.5 497.96h2M424.2 497.96h-2M302.61 525.8v-1.3M302.61 386.6v1.3M250.5 484.04h1.3M424.2 484.04h-1.3M319.98 525.8v-2M319.98 386.6v2M250.5 470.12h2M424.2 470.12h-2M337.35 525.8v-1.3M337.35 386.6v1.3M250.5 456.2h1.3M424.2 456.2h-1.3M354.72 525.8v-2M354.72 386.6v2M250.5 442.28h2M424.2 442.28h-2M372.09 525.8v-1.3M372.09 386.6v1.3M250.5 428.36h1.3M424.2 428.36h-1.3M389.46 525.8v-2M389.46 386.6v2M250.5 414.44h2M424.2 414.44h-2M406.83 525.8v-1.3M406.83 386.6v1.3M250.5 400.52h1.3M424.2 400.52h-1.3M424.2 525.8v-2M424.2 386.6v2M250.5 386.6h2M424.2 386.6h-2" class="tm"/><g class="tk"><text transform="translate(250.5 533) scale(0.93 1)" text-anchor="middle" class="tkx">0.0</text><text transform="translate(249 528) scale(0.86 1)" text-anchor="end" class="tky">0.0</text><text transform="translate(285.24 533) scale(0.93 1)" text-anchor="middle" class="tkx">0.2</text><text transform="translate(249 500.16) scale(0.86 1)" text-anchor="end" class="tky">0.2</text><text transform="translate(319.98 533) scale(0.93 1)" text-anchor="middle" class="tkx">0.4</text><text transform="translate(249 472.32) scale(0.86 1)" text-anchor="end" class="tky">0.4</text><text transform="translate(354.72 533) scale(0.93 1)" text-anchor="middle" class="tkx">0.6</text><text transform="translate(249 444.48) scale(0.86 1)" text-anchor="end" class="tky">0.6</text><text transform="translate(389.46 533) scale(0.93 1)" text-anchor="middle" class="tkx">0.8</text><text transform="translate(249 416.64) scale(0.86 1)" text-anchor="end" class="tky">0.8</text><text transform="translate(424.2 533) scale(0.93 1)" text-anchor="middle" class="tkx">1.0</text><text transform="translate(249 388.8) scale(0.86 1)" text-anchor="end" class="tky">1.0</text></g>
<rect x="250.5" y="386.6" width="173.7" height="139.2" class="fr"/>
<path d="M347.23 525.8L348.19 523.02L349.48 518.84L349.81 511.88L349.8 503.53L350.22 495.18L349.62 484.04L350.41 472.9L351.22 461.77L351.65 453.42L352.89 447.85L352.95 443.67" stroke="#555" stroke-width="0.65" fill="none" stroke-linejoin="round"/><path d="M348.13 525.8L348.79 523.02L350.41 518.84L350.61 511.88L350.23 503.53L350.66 495.18L351.05 484.04L352.05 472.9L352.19 461.77L352.23 453.42L353.77 447.85L353.87 443.67" stroke="#6a4" stroke-width="0.65" fill="none" stroke-linejoin="round"/><path d="M349.36 525.8L349.79 523.02L351.03 518.84L352.11 511.88L351.62 503.53L351.84 495.18L352.96 484.04L353.16 472.9L352.84 461.77L354.15 453.42L354.48 447.85L355.33 443.67" stroke="#964" stroke-width="0.65" fill="none" stroke-linejoin="round"/><path d="M349.99 525.8L351.76 523.02L352.94 518.84L353.4 511.88L353.52 503.53L353.11 495.18L353.48 484.04L353.58 472.9L353.84 461.77L354.3 453.42L355.22 447.85L356.14 443.67" stroke="#993" stroke-width="0.65" fill="none" stroke-linejoin="round"/><path d="M350.85 525.8L352.61 523.02L353.76 518.84L353.9 511.88L354.63 503.53L354.48 495.18L354.61 484.04L355.08 472.9L355.58 461.77L355.38 453.42L356.91 447.85L356.42 443.67" stroke="#4aa" stroke-width="0.65" fill="none" stroke-linejoin="round"/><path d="M352.7 525.8L353.9 523.02L354.62 518.84L355.59 511.88L355.34 503.53L355.77 495.18L355.46 484.04L355.79 472.9L356.19 461.77L357.41 453.42L357.08 447.85L358.08 443.67" stroke="#84b" stroke-width="0.65" fill="none" stroke-linejoin="round"/><path d="M353.95 525.8L355.13 523.02L356.15 518.84L356.32 511.88L356.7 503.53L357.16 495.18L356.74 484.04L357.69 472.9L357.99 461.77L358.39 453.42L357.89 447.85L359.17 443.67" stroke="#45b" stroke-width="0.65" fill="none" stroke-linejoin="round"/><path d="M354.14 525.8L355.62 523.02L357.62 518.84L358.1 511.88L357.69 503.53L358.5 495.18L358.37 484.04L358.39 472.9L358.64 461.77L358.76 453.42L358.92 447.85L359.22 443.67" stroke="#777" stroke-width="0.65" fill="none" stroke-linejoin="round"/><path d="M355.83 525.8L357.42 523.02L358.34 518.84L358.38 511.88L359.55 503.53L359.27 495.18L359.39 484.04L359.48 472.9L360.08 461.77L360.53 453.42L360.3 447.85L360.4 443.67" stroke="#a77" stroke-width="0.65" fill="none" stroke-linejoin="round"/><path d="M358.94 525.8L361.56 521.62L362.44 497.96L362.78 470.12L363.31 449.24L364.18 442.28" stroke="#bbb" stroke-width="0.5" fill="none" stroke-linejoin="round"/><path d="M359.81 524.41L362.09 511.88L362.96 484.04L363.83 456.2L364.53 439.5" stroke="#f99" stroke-width="0.5" fill="none" stroke-linejoin="round"/><path d="M250.5 525.8L283.73 525.8" stroke="#f9a" stroke-width="0.9" fill="none" stroke-linejoin="round"/><path d="M284.26 525.8L309.97 525.8" stroke="#000" stroke-width="2.2" fill="none" stroke-linejoin="round"/><path d="M348.44 525.8L357.19 525.24L360.16 519.12" stroke="#000" stroke-width="1.8" fill="none" stroke-linejoin="round"/><path d="M360.16 519.12L360.69 496.01L361.21 472.76L361.39 455.09L361.21 442.28L361.39 441.17" stroke="#000" stroke-width="0.8" fill="none" stroke-linejoin="round"/><path d="M360.16 520.18l1.32 2.4h-2.64zM360.34 514.62l1.32 2.4h-2.64zM360.51 509.05l1.32 2.4h-2.64zM360.69 502.09l1.32 2.4h-2.64zM361.04 483.3l1.32 2.4h-2.64zM361.21 471.32l1.32 2.4h-2.64zM360.86 451.7l1.32 2.4h-2.64z" fill="#000"/><path d="M361.39 441.17L366.98 436.02" stroke="#000" stroke-width="2" fill="none" stroke-linejoin="round"/><path d="M366.98 435.6L378 426.13L390.42 414.44L399.16 407.48" stroke="#000" stroke-width="1.3" fill="none" stroke-linejoin="round"/><path d="M309.97 525.8L344.07 525.24L346.87 520.51L347.57 512.3" stroke="#f00" stroke-width="2.4" fill="none" stroke-linejoin="round"/><path d="M347.57 512.3L348.27 496.01L348.97 475.55L349.49 457.87L350.89 449.24L352.29 444.37" stroke="#f00" stroke-width="0.9" fill="none" stroke-linejoin="round"/><circle cx="347.74" cy="509.1" r="1.3" fill="#f00"/><circle cx="348.97" cy="495.59" r="1.3" fill="#f00"/><circle cx="349.14" cy="472.76" r="1.3" fill="#f00"/><circle cx="350.19" cy="465.11" r="1.3" fill="#f00"/><circle cx="350.89" cy="457.59" r="1.3" fill="#f00"/><circle cx="351.94" cy="453.14" r="1.3" fill="#f00"/><circle cx="351.94" cy="449.8" r="1.3" fill="#f00"/><path d="M351.94 444.37L425.4 386.6" stroke="#f00" stroke-width="2.4" fill="none" stroke-linejoin="round"/>
<rect x="263.9" y="393.1" width="51.1" height="19.6" fill="#fff" stroke="#aaa" stroke-width="0.8"/><path d="M269 399.5H282" stroke="#777" stroke-width="0.9"/><path d="M275.6 398.2l1.3 2.1h-2.6z" fill="#000"/><text transform="translate(284.2 401.6) scale(0.87 1)" class="lg">01 pattern</text><path d="M269 406.8H282" stroke="#fbb" stroke-width="0.9"/><circle cx="275.6" cy="406.8" r="1.25" fill="#f00"/><text transform="translate(284.2 408.9) scale(0.87 1)" class="lg">21 pattern</text><text x="266.3" y="423.2" class="an">Attack type : BA</text><text x="266.3" y="429.5" class="an">Link pattern: RL</text>
</g>
<text x="103.5" y="13.7" text-anchor="middle" style="font-size:11.6px" fill="#000">a</text><text x="328.5" y="13.6" text-anchor="middle" style="font-size:11.5px" fill="#000">b</text><text transform="translate(103.4 195.9) scale(1.13 1)" text-anchor="middle" style="font-size:11.4px;stroke:#000;stroke-width:0.1px" fill="#000">c</text><text x="328.5" y="195.7" text-anchor="middle" style="font-size:12.5px" fill="#000">d</text><text x="103.6" y="377.5" text-anchor="middle" style="font-size:12px" fill="#000">e</text><text x="328.7" y="377.5" text-anchor="middle" style="font-size:13.8px" fill="#000">f</text><text x="112.7" y="179.4" text-anchor="middle" class="al">p</text><text transform="translate(10.3 101.7) rotate(-90)" class="al">p<tspan style="font-size:4px" dy="2.6">&#8734;</tspan></text><text x="338.2" y="177.5" text-anchor="middle" class="al">p</text><text transform="translate(235.3 101.3) rotate(-90)" class="al">p<tspan style="font-size:4px" dy="2.6">&#8734;</tspan></text><text x="112.7" y="361.3" text-anchor="middle" class="al">p</text><text transform="translate(10.3 283.6) rotate(-90)" class="al">p<tspan style="font-size:4px" dy="2.6">&#8734;</tspan></text><text x="337.55" y="361.6" text-anchor="middle" class="al">p</text><text transform="translate(235.3 283.9) rotate(-90)" class="al">p<tspan style="font-size:4px" dy="2.6">&#8734;</tspan></text><text x="112.7" y="543.4" text-anchor="middle" class="al">p</text><text transform="translate(10.3 465.7) rotate(-90)" class="al">p<tspan style="font-size:4px" dy="2.6">&#8734;</tspan></text><text x="337.55" y="543.5" text-anchor="middle" class="al">p</text><text transform="translate(235.3 465.8) rotate(-90)" class="al">p<tspan style="font-size:4px" dy="2.6">&#8734;</tspan></text>
</svg>
</body></html>
